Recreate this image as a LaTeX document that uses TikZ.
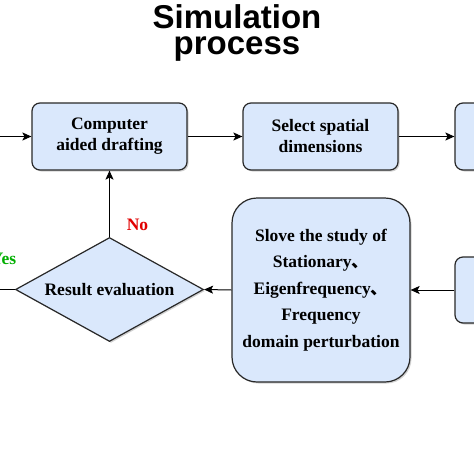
\documentclass[tikz,border=0pt]{standalone}
\usepackage{fontspec}
\setmainfont{Liberation Serif}
\newfontfamily\titlefont{Liberation Sans}
\newfontfamily\cjkfont{Noto Sans CJK SC}
\usepackage{xcolor}
\usetikzlibrary{arrows.meta}
\usetikzlibrary{shapes.geometric}
\usetikzlibrary{shadows}
\definecolor{boxblue}{RGB}{218,232,252}
\definecolor{boxline}{RGB}{40,40,40}
\definecolor{nored}{RGB}{225,0,0}
\definecolor{yesgreen}{RGB}{0,175,0}

\begin{document}
\begin{tikzpicture}[x=1pt,y=-1pt,
  box/.style={draw=boxline,fill=boxblue,line width=1.2pt,rounded corners=8pt,
    drop shadow={shadow xshift=1.5pt,shadow yshift=-1.5pt,opacity=0.35,fill=gray},
    align=center,font=\bfseries\fontsize{17.5}{21}\selectfont,inner sep=0pt},
  flow/.style={black,line width=1pt,-{Stealth[length=9pt,width=8pt,inset=2pt]}}]
\useasboundingbox[fill=white] (0,0) rectangle (474,474);
\node[font=\titlefont\bfseries\fontsize{33}{26.5}\selectfont,align=center,inner sep=0pt] (title) at (237,33) {Simulation\\process};
% top row
\node[box,minimum width=155pt,minimum height=67pt] (cad) at (109.5,136.5) {Computer\\aided drafting};
\node[box,minimum width=155pt,minimum height=67pt] (spatial) at (320.5,136.5) {Select spatial\\dimensions};
\node[box,minimum width=155pt,minimum height=67pt] (physics) at (532.5,136.5) {};
% bottom row
\node[box,minimum width=155pt,minimum height=66pt] (mesh) at (532.5,290) {};
\node[box,rounded corners=25pt,minimum width=178pt,minimum height=184pt,font=\bfseries\fontsize{17.5}{26.6}\selectfont] (study) at (321,290)
  {Slove the study of\\Stationary{\cjkfont 、}\\Eigenfrequency{\cjkfont 、}\\Frequency\\domain perturbation};
\node[box,diamond,sharp corners,aspect=1.8,minimum width=188pt,minimum height=104pt] (eval) at (109.5,289.5) {Result evaluation};
\node[text=nored,font=\bfseries\fontsize{17.5}{21}\selectfont] (no) at (137.5,225) {No};
\node[text=yesgreen,font=\bfseries\fontsize{17.5}{21}\selectfont] (yes) at (3.5,259) {Yes};
% connectors
\coordinate (in) at (0,136.5);
\coordinate (out) at (0,289.5);
\draw[flow] (in) -- (cad.west);
\draw[flow] (cad.east) -- (spatial.west);
\draw[flow] (spatial.east) -- (physics.west);
\draw[flow] (mesh.west) -- (study.east);
\draw[flow] (study.west) -- (eval.east);
\draw[flow] (eval.north) -- (cad.south);
\draw[black,line width=1pt] (eval.west) -- (out);
\end{tikzpicture}
\end{document}
